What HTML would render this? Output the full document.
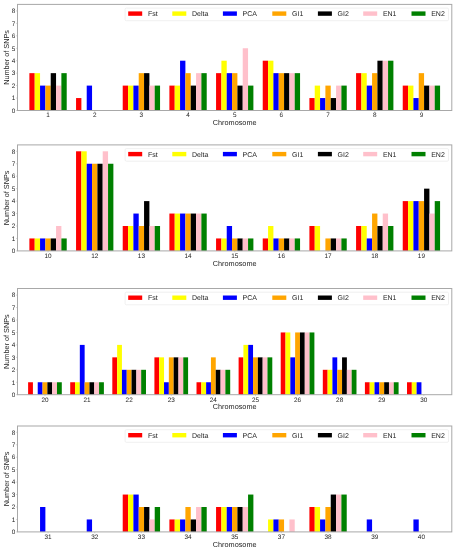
<!DOCTYPE html>
<html lang="en">
<head>
<meta charset="utf-8">
<title>Number of SNPs per chromosome</title>
<style>
html,body{margin:0;padding:0;background:#fff;}
body{width:455px;height:550px;overflow:hidden;}
svg{display:block;}
text{font-family:"Liberation Sans",Arial,sans-serif;fill:#262626;text-rendering:geometricPrecision;}
.tick{font-size:6.4px;}
.lab{font-size:7.3px;}
.leg{font-size:7px;}
</style>
</head>
<body>
<svg width="455" height="550" viewBox="0 0 455 550">
<rect x="0" y="0" width="455" height="550" fill="#ffffff"/>
<g>
<rect x="29.38" y="73.15" width="5.33" height="37.35" fill="#ff0000"/>
<rect x="34.72" y="73.15" width="5.33" height="37.35" fill="#ffff00"/>
<rect x="40.05" y="85.60" width="5.33" height="24.90" fill="#0000ff"/>
<rect x="45.38" y="85.60" width="5.33" height="24.90" fill="#ffa500"/>
<rect x="50.72" y="73.15" width="5.33" height="37.35" fill="#000000"/>
<rect x="56.05" y="85.60" width="5.33" height="24.90" fill="#ffc0cb"/>
<rect x="61.38" y="73.15" width="5.33" height="37.35" fill="#008000"/>
<rect x="76.05" y="98.05" width="5.33" height="12.45" fill="#ff0000"/>
<rect x="86.72" y="85.60" width="5.33" height="24.90" fill="#0000ff"/>
<rect x="122.72" y="85.60" width="5.33" height="24.90" fill="#ff0000"/>
<rect x="128.06" y="85.60" width="5.33" height="24.90" fill="#ffff00"/>
<rect x="133.39" y="85.60" width="5.33" height="24.90" fill="#0000ff"/>
<rect x="138.72" y="73.15" width="5.33" height="37.35" fill="#ffa500"/>
<rect x="144.06" y="73.15" width="5.33" height="37.35" fill="#000000"/>
<rect x="149.39" y="85.60" width="5.33" height="24.90" fill="#ffc0cb"/>
<rect x="154.72" y="85.60" width="5.33" height="24.90" fill="#008000"/>
<rect x="169.39" y="85.60" width="5.33" height="24.90" fill="#ff0000"/>
<rect x="174.73" y="85.60" width="5.33" height="24.90" fill="#ffff00"/>
<rect x="180.06" y="60.70" width="5.33" height="49.80" fill="#0000ff"/>
<rect x="185.39" y="73.15" width="5.33" height="37.35" fill="#ffa500"/>
<rect x="190.73" y="85.60" width="5.33" height="24.90" fill="#000000"/>
<rect x="196.06" y="73.15" width="5.33" height="37.35" fill="#ffc0cb"/>
<rect x="201.39" y="73.15" width="5.33" height="37.35" fill="#008000"/>
<rect x="216.06" y="73.15" width="5.33" height="37.35" fill="#ff0000"/>
<rect x="221.40" y="60.70" width="5.33" height="49.80" fill="#ffff00"/>
<rect x="226.73" y="73.15" width="5.33" height="37.35" fill="#0000ff"/>
<rect x="232.06" y="73.15" width="5.33" height="37.35" fill="#ffa500"/>
<rect x="237.40" y="85.60" width="5.33" height="24.90" fill="#000000"/>
<rect x="242.73" y="48.25" width="5.33" height="62.25" fill="#ffc0cb"/>
<rect x="248.06" y="85.60" width="5.33" height="24.90" fill="#008000"/>
<rect x="262.73" y="60.70" width="5.33" height="49.80" fill="#ff0000"/>
<rect x="268.07" y="60.70" width="5.33" height="49.80" fill="#ffff00"/>
<rect x="273.40" y="73.15" width="5.33" height="37.35" fill="#0000ff"/>
<rect x="278.73" y="73.15" width="5.33" height="37.35" fill="#ffa500"/>
<rect x="284.07" y="73.15" width="5.33" height="37.35" fill="#000000"/>
<rect x="289.40" y="73.15" width="5.33" height="37.35" fill="#ffc0cb"/>
<rect x="294.73" y="73.15" width="5.33" height="37.35" fill="#008000"/>
<rect x="309.40" y="98.05" width="5.33" height="12.45" fill="#ff0000"/>
<rect x="314.74" y="85.60" width="5.33" height="24.90" fill="#ffff00"/>
<rect x="320.07" y="98.05" width="5.33" height="12.45" fill="#0000ff"/>
<rect x="325.40" y="85.60" width="5.33" height="24.90" fill="#ffa500"/>
<rect x="330.74" y="98.05" width="5.33" height="12.45" fill="#000000"/>
<rect x="336.07" y="85.60" width="5.33" height="24.90" fill="#ffc0cb"/>
<rect x="341.40" y="85.60" width="5.33" height="24.90" fill="#008000"/>
<rect x="356.07" y="73.15" width="5.33" height="37.35" fill="#ff0000"/>
<rect x="361.41" y="73.15" width="5.33" height="37.35" fill="#ffff00"/>
<rect x="366.74" y="85.60" width="5.33" height="24.90" fill="#0000ff"/>
<rect x="372.07" y="73.15" width="5.33" height="37.35" fill="#ffa500"/>
<rect x="377.41" y="60.70" width="5.33" height="49.80" fill="#000000"/>
<rect x="382.74" y="60.70" width="5.33" height="49.80" fill="#ffc0cb"/>
<rect x="388.07" y="60.70" width="5.33" height="49.80" fill="#008000"/>
<rect x="402.74" y="85.60" width="5.33" height="24.90" fill="#ff0000"/>
<rect x="408.08" y="85.60" width="5.33" height="24.90" fill="#ffff00"/>
<rect x="413.41" y="98.05" width="5.33" height="12.45" fill="#0000ff"/>
<rect x="418.74" y="73.15" width="5.33" height="37.35" fill="#ffa500"/>
<rect x="424.08" y="85.60" width="5.33" height="24.90" fill="#000000"/>
<rect x="429.41" y="85.60" width="5.33" height="24.90" fill="#ffc0cb"/>
<rect x="434.74" y="85.60" width="5.33" height="24.90" fill="#008000"/>
<rect x="17.50" y="4.40" width="434.30" height="106.10" fill="none" stroke="#a8a8a8" stroke-width="1"/>
<line x1="16.10" y1="110.50" x2="17.50" y2="110.50" stroke="#a8a8a8" stroke-width="0.5"/>
<text class="tick" x="15.3" y="112.75" text-anchor="end">0</text>
<line x1="16.10" y1="98.05" x2="17.50" y2="98.05" stroke="#a8a8a8" stroke-width="0.5"/>
<text class="tick" x="15.3" y="100.30" text-anchor="end">1</text>
<line x1="16.10" y1="85.60" x2="17.50" y2="85.60" stroke="#a8a8a8" stroke-width="0.5"/>
<text class="tick" x="15.3" y="87.85" text-anchor="end">2</text>
<line x1="16.10" y1="73.15" x2="17.50" y2="73.15" stroke="#a8a8a8" stroke-width="0.5"/>
<text class="tick" x="15.3" y="75.40" text-anchor="end">3</text>
<line x1="16.10" y1="60.70" x2="17.50" y2="60.70" stroke="#a8a8a8" stroke-width="0.5"/>
<text class="tick" x="15.3" y="62.95" text-anchor="end">4</text>
<line x1="16.10" y1="48.25" x2="17.50" y2="48.25" stroke="#a8a8a8" stroke-width="0.5"/>
<text class="tick" x="15.3" y="50.50" text-anchor="end">5</text>
<line x1="16.10" y1="35.80" x2="17.50" y2="35.80" stroke="#a8a8a8" stroke-width="0.5"/>
<text class="tick" x="15.3" y="38.05" text-anchor="end">6</text>
<line x1="16.10" y1="23.35" x2="17.50" y2="23.35" stroke="#a8a8a8" stroke-width="0.5"/>
<text class="tick" x="15.3" y="25.60" text-anchor="end">7</text>
<line x1="16.10" y1="10.90" x2="17.50" y2="10.90" stroke="#a8a8a8" stroke-width="0.5"/>
<text class="tick" x="15.3" y="13.15" text-anchor="end">8</text>
<line x1="48.05" y1="110.50" x2="48.05" y2="111.90" stroke="#a8a8a8" stroke-width="0.5"/>
<text class="tick" x="48.05" y="117.30" text-anchor="middle">1</text>
<line x1="94.72" y1="110.50" x2="94.72" y2="111.90" stroke="#a8a8a8" stroke-width="0.5"/>
<text class="tick" x="94.72" y="117.30" text-anchor="middle">2</text>
<line x1="141.39" y1="110.50" x2="141.39" y2="111.90" stroke="#a8a8a8" stroke-width="0.5"/>
<text class="tick" x="141.39" y="117.30" text-anchor="middle">3</text>
<line x1="188.06" y1="110.50" x2="188.06" y2="111.90" stroke="#a8a8a8" stroke-width="0.5"/>
<text class="tick" x="188.06" y="117.30" text-anchor="middle">4</text>
<line x1="234.73" y1="110.50" x2="234.73" y2="111.90" stroke="#a8a8a8" stroke-width="0.5"/>
<text class="tick" x="234.73" y="117.30" text-anchor="middle">5</text>
<line x1="281.40" y1="110.50" x2="281.40" y2="111.90" stroke="#a8a8a8" stroke-width="0.5"/>
<text class="tick" x="281.40" y="117.30" text-anchor="middle">6</text>
<line x1="328.07" y1="110.50" x2="328.07" y2="111.90" stroke="#a8a8a8" stroke-width="0.5"/>
<text class="tick" x="328.07" y="117.30" text-anchor="middle">7</text>
<line x1="374.74" y1="110.50" x2="374.74" y2="111.90" stroke="#a8a8a8" stroke-width="0.5"/>
<text class="tick" x="374.74" y="117.30" text-anchor="middle">8</text>
<line x1="421.41" y1="110.50" x2="421.41" y2="111.90" stroke="#a8a8a8" stroke-width="0.5"/>
<text class="tick" x="421.41" y="117.30" text-anchor="middle">9</text>
<text class="lab" x="234.65" y="125.20" text-anchor="middle">Chromosome</text>
<text class="lab" transform="translate(9.4 57.45) rotate(-90)" text-anchor="middle">Number of SNPs</text>
<rect x="125.1" y="8.10" width="323.4" height="12.6" rx="1.2" ry="1.2" fill="#ffffff" fill-opacity="0.8" stroke="#e6e6e6" stroke-width="0.6"/>
<rect x="128.20" y="11.40" width="14.00" height="4.4" fill="#ff0000"/>
<text class="leg" x="147.90" y="16.20">Fst</text>
<rect x="172.30" y="11.40" width="14.00" height="4.4" fill="#ffff00"/>
<text class="leg" x="192.00" y="16.20">Delta</text>
<rect x="222.90" y="11.40" width="14.00" height="4.4" fill="#0000ff"/>
<text class="leg" x="242.60" y="16.20">PCA</text>
<rect x="272.30" y="11.40" width="14.00" height="4.4" fill="#ffa500"/>
<text class="leg" x="292.00" y="16.20">GI1</text>
<rect x="317.90" y="11.40" width="14.00" height="4.4" fill="#000000"/>
<text class="leg" x="337.60" y="16.20">GI2</text>
<rect x="363.20" y="11.40" width="14.00" height="4.4" fill="#ffc0cb"/>
<text class="leg" x="382.90" y="16.20">EN1</text>
<rect x="411.50" y="11.40" width="14.00" height="4.4" fill="#008000"/>
<text class="leg" x="431.20" y="16.20">EN2</text>
</g>
<g>
<rect x="29.38" y="238.45" width="5.33" height="12.45" fill="#ff0000"/>
<rect x="34.72" y="238.45" width="5.33" height="12.45" fill="#ffff00"/>
<rect x="40.05" y="238.45" width="5.33" height="12.45" fill="#0000ff"/>
<rect x="45.38" y="238.45" width="5.33" height="12.45" fill="#ffa500"/>
<rect x="50.72" y="238.45" width="5.33" height="12.45" fill="#000000"/>
<rect x="56.05" y="226.00" width="5.33" height="24.90" fill="#ffc0cb"/>
<rect x="61.38" y="238.45" width="5.33" height="12.45" fill="#008000"/>
<rect x="76.05" y="151.30" width="5.33" height="99.60" fill="#ff0000"/>
<rect x="81.39" y="151.30" width="5.33" height="99.60" fill="#ffff00"/>
<rect x="86.72" y="163.75" width="5.33" height="87.15" fill="#0000ff"/>
<rect x="92.05" y="163.75" width="5.33" height="87.15" fill="#ffa500"/>
<rect x="97.39" y="163.75" width="5.33" height="87.15" fill="#000000"/>
<rect x="102.72" y="151.30" width="5.33" height="99.60" fill="#ffc0cb"/>
<rect x="108.05" y="163.75" width="5.33" height="87.15" fill="#008000"/>
<rect x="122.72" y="226.00" width="5.33" height="24.90" fill="#ff0000"/>
<rect x="128.06" y="226.00" width="5.33" height="24.90" fill="#ffff00"/>
<rect x="133.39" y="213.55" width="5.33" height="37.35" fill="#0000ff"/>
<rect x="138.72" y="226.00" width="5.33" height="24.90" fill="#ffa500"/>
<rect x="144.06" y="201.10" width="5.33" height="49.80" fill="#000000"/>
<rect x="149.39" y="226.00" width="5.33" height="24.90" fill="#ffc0cb"/>
<rect x="154.72" y="226.00" width="5.33" height="24.90" fill="#008000"/>
<rect x="169.39" y="213.55" width="5.33" height="37.35" fill="#ff0000"/>
<rect x="174.73" y="213.55" width="5.33" height="37.35" fill="#ffff00"/>
<rect x="180.06" y="213.55" width="5.33" height="37.35" fill="#0000ff"/>
<rect x="185.39" y="213.55" width="5.33" height="37.35" fill="#ffa500"/>
<rect x="190.73" y="213.55" width="5.33" height="37.35" fill="#000000"/>
<rect x="196.06" y="213.55" width="5.33" height="37.35" fill="#ffc0cb"/>
<rect x="201.39" y="213.55" width="5.33" height="37.35" fill="#008000"/>
<rect x="216.06" y="238.45" width="5.33" height="12.45" fill="#ff0000"/>
<rect x="221.40" y="238.45" width="5.33" height="12.45" fill="#ffff00"/>
<rect x="226.73" y="226.00" width="5.33" height="24.90" fill="#0000ff"/>
<rect x="232.06" y="238.45" width="5.33" height="12.45" fill="#ffa500"/>
<rect x="237.40" y="238.45" width="5.33" height="12.45" fill="#000000"/>
<rect x="242.73" y="238.45" width="5.33" height="12.45" fill="#ffc0cb"/>
<rect x="248.06" y="238.45" width="5.33" height="12.45" fill="#008000"/>
<rect x="262.73" y="238.45" width="5.33" height="12.45" fill="#ff0000"/>
<rect x="268.07" y="226.00" width="5.33" height="24.90" fill="#ffff00"/>
<rect x="273.40" y="238.45" width="5.33" height="12.45" fill="#0000ff"/>
<rect x="278.73" y="238.45" width="5.33" height="12.45" fill="#ffa500"/>
<rect x="284.07" y="238.45" width="5.33" height="12.45" fill="#000000"/>
<rect x="289.40" y="238.45" width="5.33" height="12.45" fill="#ffc0cb"/>
<rect x="294.73" y="238.45" width="5.33" height="12.45" fill="#008000"/>
<rect x="309.40" y="226.00" width="5.33" height="24.90" fill="#ff0000"/>
<rect x="314.74" y="226.00" width="5.33" height="24.90" fill="#ffff00"/>
<rect x="325.40" y="238.45" width="5.33" height="12.45" fill="#ffa500"/>
<rect x="330.74" y="238.45" width="5.33" height="12.45" fill="#000000"/>
<rect x="336.07" y="238.45" width="5.33" height="12.45" fill="#ffc0cb"/>
<rect x="341.40" y="238.45" width="5.33" height="12.45" fill="#008000"/>
<rect x="356.07" y="226.00" width="5.33" height="24.90" fill="#ff0000"/>
<rect x="361.41" y="226.00" width="5.33" height="24.90" fill="#ffff00"/>
<rect x="366.74" y="238.45" width="5.33" height="12.45" fill="#0000ff"/>
<rect x="372.07" y="213.55" width="5.33" height="37.35" fill="#ffa500"/>
<rect x="377.41" y="226.00" width="5.33" height="24.90" fill="#000000"/>
<rect x="382.74" y="213.55" width="5.33" height="37.35" fill="#ffc0cb"/>
<rect x="388.07" y="226.00" width="5.33" height="24.90" fill="#008000"/>
<rect x="402.74" y="201.10" width="5.33" height="49.80" fill="#ff0000"/>
<rect x="408.08" y="201.10" width="5.33" height="49.80" fill="#ffff00"/>
<rect x="413.41" y="201.10" width="5.33" height="49.80" fill="#0000ff"/>
<rect x="418.74" y="201.10" width="5.33" height="49.80" fill="#ffa500"/>
<rect x="424.08" y="188.65" width="5.33" height="62.25" fill="#000000"/>
<rect x="429.41" y="213.55" width="5.33" height="37.35" fill="#ffc0cb"/>
<rect x="434.74" y="201.10" width="5.33" height="49.80" fill="#008000"/>
<rect x="17.50" y="144.90" width="434.30" height="106.00" fill="none" stroke="#a8a8a8" stroke-width="1"/>
<line x1="16.10" y1="250.90" x2="17.50" y2="250.90" stroke="#a8a8a8" stroke-width="0.5"/>
<text class="tick" x="15.3" y="253.15" text-anchor="end">0</text>
<line x1="16.10" y1="238.45" x2="17.50" y2="238.45" stroke="#a8a8a8" stroke-width="0.5"/>
<text class="tick" x="15.3" y="240.70" text-anchor="end">1</text>
<line x1="16.10" y1="226.00" x2="17.50" y2="226.00" stroke="#a8a8a8" stroke-width="0.5"/>
<text class="tick" x="15.3" y="228.25" text-anchor="end">2</text>
<line x1="16.10" y1="213.55" x2="17.50" y2="213.55" stroke="#a8a8a8" stroke-width="0.5"/>
<text class="tick" x="15.3" y="215.80" text-anchor="end">3</text>
<line x1="16.10" y1="201.10" x2="17.50" y2="201.10" stroke="#a8a8a8" stroke-width="0.5"/>
<text class="tick" x="15.3" y="203.35" text-anchor="end">4</text>
<line x1="16.10" y1="188.65" x2="17.50" y2="188.65" stroke="#a8a8a8" stroke-width="0.5"/>
<text class="tick" x="15.3" y="190.90" text-anchor="end">5</text>
<line x1="16.10" y1="176.20" x2="17.50" y2="176.20" stroke="#a8a8a8" stroke-width="0.5"/>
<text class="tick" x="15.3" y="178.45" text-anchor="end">6</text>
<line x1="16.10" y1="163.75" x2="17.50" y2="163.75" stroke="#a8a8a8" stroke-width="0.5"/>
<text class="tick" x="15.3" y="166.00" text-anchor="end">7</text>
<line x1="16.10" y1="151.30" x2="17.50" y2="151.30" stroke="#a8a8a8" stroke-width="0.5"/>
<text class="tick" x="15.3" y="153.55" text-anchor="end">8</text>
<line x1="48.05" y1="250.90" x2="48.05" y2="252.30" stroke="#a8a8a8" stroke-width="0.5"/>
<text class="tick" x="48.05" y="257.70" text-anchor="middle">10</text>
<line x1="94.72" y1="250.90" x2="94.72" y2="252.30" stroke="#a8a8a8" stroke-width="0.5"/>
<text class="tick" x="94.72" y="257.70" text-anchor="middle">12</text>
<line x1="141.39" y1="250.90" x2="141.39" y2="252.30" stroke="#a8a8a8" stroke-width="0.5"/>
<text class="tick" x="141.39" y="257.70" text-anchor="middle">13</text>
<line x1="188.06" y1="250.90" x2="188.06" y2="252.30" stroke="#a8a8a8" stroke-width="0.5"/>
<text class="tick" x="188.06" y="257.70" text-anchor="middle">14</text>
<line x1="234.73" y1="250.90" x2="234.73" y2="252.30" stroke="#a8a8a8" stroke-width="0.5"/>
<text class="tick" x="234.73" y="257.70" text-anchor="middle">15</text>
<line x1="281.40" y1="250.90" x2="281.40" y2="252.30" stroke="#a8a8a8" stroke-width="0.5"/>
<text class="tick" x="281.40" y="257.70" text-anchor="middle">16</text>
<line x1="328.07" y1="250.90" x2="328.07" y2="252.30" stroke="#a8a8a8" stroke-width="0.5"/>
<text class="tick" x="328.07" y="257.70" text-anchor="middle">17</text>
<line x1="374.74" y1="250.90" x2="374.74" y2="252.30" stroke="#a8a8a8" stroke-width="0.5"/>
<text class="tick" x="374.74" y="257.70" text-anchor="middle">18</text>
<line x1="421.41" y1="250.90" x2="421.41" y2="252.30" stroke="#a8a8a8" stroke-width="0.5"/>
<text class="tick" x="421.41" y="257.70" text-anchor="middle">19</text>
<text class="lab" x="234.65" y="265.60" text-anchor="middle">Chromosome</text>
<text class="lab" transform="translate(9.4 197.90) rotate(-90)" text-anchor="middle">Number of SNPs</text>
<rect x="125.1" y="148.60" width="323.4" height="12.6" rx="1.2" ry="1.2" fill="#ffffff" fill-opacity="0.8" stroke="#e6e6e6" stroke-width="0.6"/>
<rect x="128.20" y="151.90" width="14.00" height="4.4" fill="#ff0000"/>
<text class="leg" x="147.90" y="156.70">Fst</text>
<rect x="172.30" y="151.90" width="14.00" height="4.4" fill="#ffff00"/>
<text class="leg" x="192.00" y="156.70">Delta</text>
<rect x="222.90" y="151.90" width="14.00" height="4.4" fill="#0000ff"/>
<text class="leg" x="242.60" y="156.70">PCA</text>
<rect x="272.30" y="151.90" width="14.00" height="4.4" fill="#ffa500"/>
<text class="leg" x="292.00" y="156.70">GI1</text>
<rect x="317.90" y="151.90" width="14.00" height="4.4" fill="#000000"/>
<text class="leg" x="337.60" y="156.70">GI2</text>
<rect x="363.20" y="151.90" width="14.00" height="4.4" fill="#ffc0cb"/>
<text class="leg" x="382.90" y="156.70">EN1</text>
<rect x="411.50" y="151.90" width="14.00" height="4.4" fill="#008000"/>
<text class="leg" x="431.20" y="156.70">EN2</text>
</g>
<g>
<rect x="28.11" y="382.25" width="4.81" height="12.45" fill="#ff0000"/>
<rect x="37.73" y="382.25" width="4.81" height="12.45" fill="#0000ff"/>
<rect x="42.54" y="382.25" width="4.81" height="12.45" fill="#ffa500"/>
<rect x="47.36" y="382.25" width="4.81" height="12.45" fill="#000000"/>
<rect x="52.17" y="382.25" width="4.81" height="12.45" fill="#ffc0cb"/>
<rect x="56.98" y="382.25" width="4.81" height="12.45" fill="#008000"/>
<rect x="70.21" y="382.25" width="4.81" height="12.45" fill="#ff0000"/>
<rect x="75.02" y="382.25" width="4.81" height="12.45" fill="#ffff00"/>
<rect x="79.83" y="344.90" width="4.81" height="49.80" fill="#0000ff"/>
<rect x="84.64" y="382.25" width="4.81" height="12.45" fill="#ffa500"/>
<rect x="89.46" y="382.25" width="4.81" height="12.45" fill="#000000"/>
<rect x="94.27" y="382.25" width="4.81" height="12.45" fill="#ffc0cb"/>
<rect x="99.08" y="382.25" width="4.81" height="12.45" fill="#008000"/>
<rect x="112.31" y="357.35" width="4.81" height="37.35" fill="#ff0000"/>
<rect x="117.12" y="344.90" width="4.81" height="49.80" fill="#ffff00"/>
<rect x="121.93" y="369.80" width="4.81" height="24.90" fill="#0000ff"/>
<rect x="126.74" y="369.80" width="4.81" height="24.90" fill="#ffa500"/>
<rect x="131.56" y="369.80" width="4.81" height="24.90" fill="#000000"/>
<rect x="136.37" y="369.80" width="4.81" height="24.90" fill="#ffc0cb"/>
<rect x="141.18" y="369.80" width="4.81" height="24.90" fill="#008000"/>
<rect x="154.41" y="357.35" width="4.81" height="37.35" fill="#ff0000"/>
<rect x="159.22" y="357.35" width="4.81" height="37.35" fill="#ffff00"/>
<rect x="164.03" y="382.25" width="4.81" height="12.45" fill="#0000ff"/>
<rect x="168.84" y="357.35" width="4.81" height="37.35" fill="#ffa500"/>
<rect x="173.66" y="357.35" width="4.81" height="37.35" fill="#000000"/>
<rect x="178.47" y="357.35" width="4.81" height="37.35" fill="#ffc0cb"/>
<rect x="183.28" y="357.35" width="4.81" height="37.35" fill="#008000"/>
<rect x="196.51" y="382.25" width="4.81" height="12.45" fill="#ff0000"/>
<rect x="201.32" y="382.25" width="4.81" height="12.45" fill="#ffff00"/>
<rect x="206.13" y="382.25" width="4.81" height="12.45" fill="#0000ff"/>
<rect x="210.94" y="357.35" width="4.81" height="37.35" fill="#ffa500"/>
<rect x="215.76" y="369.80" width="4.81" height="24.90" fill="#000000"/>
<rect x="220.57" y="369.80" width="4.81" height="24.90" fill="#ffc0cb"/>
<rect x="225.38" y="369.80" width="4.81" height="24.90" fill="#008000"/>
<rect x="238.61" y="357.35" width="4.81" height="37.35" fill="#ff0000"/>
<rect x="243.42" y="344.90" width="4.81" height="49.80" fill="#ffff00"/>
<rect x="248.23" y="344.90" width="4.81" height="49.80" fill="#0000ff"/>
<rect x="253.04" y="357.35" width="4.81" height="37.35" fill="#ffa500"/>
<rect x="257.86" y="357.35" width="4.81" height="37.35" fill="#000000"/>
<rect x="262.67" y="357.35" width="4.81" height="37.35" fill="#ffc0cb"/>
<rect x="267.48" y="357.35" width="4.81" height="37.35" fill="#008000"/>
<rect x="280.71" y="332.45" width="4.81" height="62.25" fill="#ff0000"/>
<rect x="285.52" y="332.45" width="4.81" height="62.25" fill="#ffff00"/>
<rect x="290.33" y="357.35" width="4.81" height="37.35" fill="#0000ff"/>
<rect x="295.14" y="332.45" width="4.81" height="62.25" fill="#ffa500"/>
<rect x="299.96" y="332.45" width="4.81" height="62.25" fill="#000000"/>
<rect x="304.77" y="332.45" width="4.81" height="62.25" fill="#ffc0cb"/>
<rect x="309.58" y="332.45" width="4.81" height="62.25" fill="#008000"/>
<rect x="322.81" y="369.80" width="4.81" height="24.90" fill="#ff0000"/>
<rect x="327.62" y="369.80" width="4.81" height="24.90" fill="#ffff00"/>
<rect x="332.43" y="357.35" width="4.81" height="37.35" fill="#0000ff"/>
<rect x="337.24" y="369.80" width="4.81" height="24.90" fill="#ffa500"/>
<rect x="342.06" y="357.35" width="4.81" height="37.35" fill="#000000"/>
<rect x="346.87" y="369.80" width="4.81" height="24.90" fill="#ffc0cb"/>
<rect x="351.68" y="369.80" width="4.81" height="24.90" fill="#008000"/>
<rect x="364.91" y="382.25" width="4.81" height="12.45" fill="#ff0000"/>
<rect x="369.72" y="382.25" width="4.81" height="12.45" fill="#ffff00"/>
<rect x="374.53" y="382.25" width="4.81" height="12.45" fill="#0000ff"/>
<rect x="379.34" y="382.25" width="4.81" height="12.45" fill="#ffa500"/>
<rect x="384.16" y="382.25" width="4.81" height="12.45" fill="#000000"/>
<rect x="388.97" y="382.25" width="4.81" height="12.45" fill="#ffc0cb"/>
<rect x="393.78" y="382.25" width="4.81" height="12.45" fill="#008000"/>
<rect x="407.01" y="382.25" width="4.81" height="12.45" fill="#ff0000"/>
<rect x="411.82" y="382.25" width="4.81" height="12.45" fill="#ffff00"/>
<rect x="416.63" y="382.25" width="4.81" height="12.45" fill="#0000ff"/>
<rect x="17.50" y="288.50" width="434.30" height="106.20" fill="none" stroke="#a8a8a8" stroke-width="1"/>
<line x1="16.10" y1="394.70" x2="17.50" y2="394.70" stroke="#a8a8a8" stroke-width="0.5"/>
<text class="tick" x="15.3" y="396.95" text-anchor="end">0</text>
<line x1="16.10" y1="382.25" x2="17.50" y2="382.25" stroke="#a8a8a8" stroke-width="0.5"/>
<text class="tick" x="15.3" y="384.50" text-anchor="end">1</text>
<line x1="16.10" y1="369.80" x2="17.50" y2="369.80" stroke="#a8a8a8" stroke-width="0.5"/>
<text class="tick" x="15.3" y="372.05" text-anchor="end">2</text>
<line x1="16.10" y1="357.35" x2="17.50" y2="357.35" stroke="#a8a8a8" stroke-width="0.5"/>
<text class="tick" x="15.3" y="359.60" text-anchor="end">3</text>
<line x1="16.10" y1="344.90" x2="17.50" y2="344.90" stroke="#a8a8a8" stroke-width="0.5"/>
<text class="tick" x="15.3" y="347.15" text-anchor="end">4</text>
<line x1="16.10" y1="332.45" x2="17.50" y2="332.45" stroke="#a8a8a8" stroke-width="0.5"/>
<text class="tick" x="15.3" y="334.70" text-anchor="end">5</text>
<line x1="16.10" y1="320.00" x2="17.50" y2="320.00" stroke="#a8a8a8" stroke-width="0.5"/>
<text class="tick" x="15.3" y="322.25" text-anchor="end">6</text>
<line x1="16.10" y1="307.55" x2="17.50" y2="307.55" stroke="#a8a8a8" stroke-width="0.5"/>
<text class="tick" x="15.3" y="309.80" text-anchor="end">7</text>
<line x1="16.10" y1="295.10" x2="17.50" y2="295.10" stroke="#a8a8a8" stroke-width="0.5"/>
<text class="tick" x="15.3" y="297.35" text-anchor="end">8</text>
<line x1="44.95" y1="394.70" x2="44.95" y2="396.10" stroke="#a8a8a8" stroke-width="0.5"/>
<text class="tick" x="44.95" y="401.50" text-anchor="middle">20</text>
<line x1="87.05" y1="394.70" x2="87.05" y2="396.10" stroke="#a8a8a8" stroke-width="0.5"/>
<text class="tick" x="87.05" y="401.50" text-anchor="middle">21</text>
<line x1="129.15" y1="394.70" x2="129.15" y2="396.10" stroke="#a8a8a8" stroke-width="0.5"/>
<text class="tick" x="129.15" y="401.50" text-anchor="middle">22</text>
<line x1="171.25" y1="394.70" x2="171.25" y2="396.10" stroke="#a8a8a8" stroke-width="0.5"/>
<text class="tick" x="171.25" y="401.50" text-anchor="middle">23</text>
<line x1="213.35" y1="394.70" x2="213.35" y2="396.10" stroke="#a8a8a8" stroke-width="0.5"/>
<text class="tick" x="213.35" y="401.50" text-anchor="middle">24</text>
<line x1="255.45" y1="394.70" x2="255.45" y2="396.10" stroke="#a8a8a8" stroke-width="0.5"/>
<text class="tick" x="255.45" y="401.50" text-anchor="middle">25</text>
<line x1="297.55" y1="394.70" x2="297.55" y2="396.10" stroke="#a8a8a8" stroke-width="0.5"/>
<text class="tick" x="297.55" y="401.50" text-anchor="middle">26</text>
<line x1="339.65" y1="394.70" x2="339.65" y2="396.10" stroke="#a8a8a8" stroke-width="0.5"/>
<text class="tick" x="339.65" y="401.50" text-anchor="middle">28</text>
<line x1="381.75" y1="394.70" x2="381.75" y2="396.10" stroke="#a8a8a8" stroke-width="0.5"/>
<text class="tick" x="381.75" y="401.50" text-anchor="middle">29</text>
<line x1="423.85" y1="394.70" x2="423.85" y2="396.10" stroke="#a8a8a8" stroke-width="0.5"/>
<text class="tick" x="423.85" y="401.50" text-anchor="middle">30</text>
<text class="lab" x="234.65" y="409.40" text-anchor="middle">Chromosome</text>
<text class="lab" transform="translate(9.4 341.60) rotate(-90)" text-anchor="middle">Number of SNPs</text>
<rect x="125.1" y="292.20" width="323.4" height="12.6" rx="1.2" ry="1.2" fill="#ffffff" fill-opacity="0.8" stroke="#e6e6e6" stroke-width="0.6"/>
<rect x="128.20" y="295.50" width="14.00" height="4.4" fill="#ff0000"/>
<text class="leg" x="147.90" y="300.30">Fst</text>
<rect x="172.30" y="295.50" width="14.00" height="4.4" fill="#ffff00"/>
<text class="leg" x="192.00" y="300.30">Delta</text>
<rect x="222.90" y="295.50" width="14.00" height="4.4" fill="#0000ff"/>
<text class="leg" x="242.60" y="300.30">PCA</text>
<rect x="272.30" y="295.50" width="14.00" height="4.4" fill="#ffa500"/>
<text class="leg" x="292.00" y="300.30">GI1</text>
<rect x="317.90" y="295.50" width="14.00" height="4.4" fill="#000000"/>
<text class="leg" x="337.60" y="300.30">GI2</text>
<rect x="363.20" y="295.50" width="14.00" height="4.4" fill="#ffc0cb"/>
<text class="leg" x="382.90" y="300.30">EN1</text>
<rect x="411.50" y="295.50" width="14.00" height="4.4" fill="#008000"/>
<text class="leg" x="431.20" y="300.30">EN2</text>
</g>
<g>
<rect x="40.05" y="507.00" width="5.33" height="24.90" fill="#0000ff"/>
<rect x="86.72" y="519.45" width="5.33" height="12.45" fill="#0000ff"/>
<rect x="122.72" y="494.55" width="5.33" height="37.35" fill="#ff0000"/>
<rect x="128.06" y="494.55" width="5.33" height="37.35" fill="#ffff00"/>
<rect x="133.39" y="494.55" width="5.33" height="37.35" fill="#0000ff"/>
<rect x="138.72" y="507.00" width="5.33" height="24.90" fill="#ffa500"/>
<rect x="144.06" y="507.00" width="5.33" height="24.90" fill="#000000"/>
<rect x="149.39" y="519.45" width="5.33" height="12.45" fill="#ffc0cb"/>
<rect x="154.72" y="507.00" width="5.33" height="24.90" fill="#008000"/>
<rect x="169.39" y="519.45" width="5.33" height="12.45" fill="#ff0000"/>
<rect x="174.73" y="519.45" width="5.33" height="12.45" fill="#ffff00"/>
<rect x="180.06" y="519.45" width="5.33" height="12.45" fill="#0000ff"/>
<rect x="185.39" y="507.00" width="5.33" height="24.90" fill="#ffa500"/>
<rect x="190.73" y="519.45" width="5.33" height="12.45" fill="#000000"/>
<rect x="196.06" y="507.00" width="5.33" height="24.90" fill="#ffc0cb"/>
<rect x="201.39" y="507.00" width="5.33" height="24.90" fill="#008000"/>
<rect x="216.06" y="507.00" width="5.33" height="24.90" fill="#ff0000"/>
<rect x="221.40" y="507.00" width="5.33" height="24.90" fill="#ffff00"/>
<rect x="226.73" y="507.00" width="5.33" height="24.90" fill="#0000ff"/>
<rect x="232.06" y="507.00" width="5.33" height="24.90" fill="#ffa500"/>
<rect x="237.40" y="507.00" width="5.33" height="24.90" fill="#000000"/>
<rect x="242.73" y="507.00" width="5.33" height="24.90" fill="#ffc0cb"/>
<rect x="248.06" y="494.55" width="5.33" height="37.35" fill="#008000"/>
<rect x="268.07" y="519.45" width="5.33" height="12.45" fill="#ffff00"/>
<rect x="273.40" y="519.45" width="5.33" height="12.45" fill="#0000ff"/>
<rect x="278.73" y="519.45" width="5.33" height="12.45" fill="#ffa500"/>
<rect x="289.40" y="519.45" width="5.33" height="12.45" fill="#ffc0cb"/>
<rect x="309.40" y="507.00" width="5.33" height="24.90" fill="#ff0000"/>
<rect x="314.74" y="507.00" width="5.33" height="24.90" fill="#ffff00"/>
<rect x="320.07" y="519.45" width="5.33" height="12.45" fill="#0000ff"/>
<rect x="325.40" y="507.00" width="5.33" height="24.90" fill="#ffa500"/>
<rect x="330.74" y="494.55" width="5.33" height="37.35" fill="#000000"/>
<rect x="336.07" y="494.55" width="5.33" height="37.35" fill="#ffc0cb"/>
<rect x="341.40" y="494.55" width="5.33" height="37.35" fill="#008000"/>
<rect x="366.74" y="519.45" width="5.33" height="12.45" fill="#0000ff"/>
<rect x="413.41" y="519.45" width="5.33" height="12.45" fill="#0000ff"/>
<rect x="17.50" y="426.00" width="434.30" height="105.90" fill="none" stroke="#a8a8a8" stroke-width="1"/>
<line x1="16.10" y1="531.90" x2="17.50" y2="531.90" stroke="#a8a8a8" stroke-width="0.5"/>
<text class="tick" x="15.3" y="534.15" text-anchor="end">0</text>
<line x1="16.10" y1="519.45" x2="17.50" y2="519.45" stroke="#a8a8a8" stroke-width="0.5"/>
<text class="tick" x="15.3" y="521.70" text-anchor="end">1</text>
<line x1="16.10" y1="507.00" x2="17.50" y2="507.00" stroke="#a8a8a8" stroke-width="0.5"/>
<text class="tick" x="15.3" y="509.25" text-anchor="end">2</text>
<line x1="16.10" y1="494.55" x2="17.50" y2="494.55" stroke="#a8a8a8" stroke-width="0.5"/>
<text class="tick" x="15.3" y="496.80" text-anchor="end">3</text>
<line x1="16.10" y1="482.10" x2="17.50" y2="482.10" stroke="#a8a8a8" stroke-width="0.5"/>
<text class="tick" x="15.3" y="484.35" text-anchor="end">4</text>
<line x1="16.10" y1="469.65" x2="17.50" y2="469.65" stroke="#a8a8a8" stroke-width="0.5"/>
<text class="tick" x="15.3" y="471.90" text-anchor="end">5</text>
<line x1="16.10" y1="457.20" x2="17.50" y2="457.20" stroke="#a8a8a8" stroke-width="0.5"/>
<text class="tick" x="15.3" y="459.45" text-anchor="end">6</text>
<line x1="16.10" y1="444.75" x2="17.50" y2="444.75" stroke="#a8a8a8" stroke-width="0.5"/>
<text class="tick" x="15.3" y="447.00" text-anchor="end">7</text>
<line x1="16.10" y1="432.30" x2="17.50" y2="432.30" stroke="#a8a8a8" stroke-width="0.5"/>
<text class="tick" x="15.3" y="434.55" text-anchor="end">8</text>
<line x1="48.05" y1="531.90" x2="48.05" y2="533.30" stroke="#a8a8a8" stroke-width="0.5"/>
<text class="tick" x="48.05" y="538.70" text-anchor="middle">31</text>
<line x1="94.72" y1="531.90" x2="94.72" y2="533.30" stroke="#a8a8a8" stroke-width="0.5"/>
<text class="tick" x="94.72" y="538.70" text-anchor="middle">32</text>
<line x1="141.39" y1="531.90" x2="141.39" y2="533.30" stroke="#a8a8a8" stroke-width="0.5"/>
<text class="tick" x="141.39" y="538.70" text-anchor="middle">33</text>
<line x1="188.06" y1="531.90" x2="188.06" y2="533.30" stroke="#a8a8a8" stroke-width="0.5"/>
<text class="tick" x="188.06" y="538.70" text-anchor="middle">34</text>
<line x1="234.73" y1="531.90" x2="234.73" y2="533.30" stroke="#a8a8a8" stroke-width="0.5"/>
<text class="tick" x="234.73" y="538.70" text-anchor="middle">35</text>
<line x1="281.40" y1="531.90" x2="281.40" y2="533.30" stroke="#a8a8a8" stroke-width="0.5"/>
<text class="tick" x="281.40" y="538.70" text-anchor="middle">37</text>
<line x1="328.07" y1="531.90" x2="328.07" y2="533.30" stroke="#a8a8a8" stroke-width="0.5"/>
<text class="tick" x="328.07" y="538.70" text-anchor="middle">38</text>
<line x1="374.74" y1="531.90" x2="374.74" y2="533.30" stroke="#a8a8a8" stroke-width="0.5"/>
<text class="tick" x="374.74" y="538.70" text-anchor="middle">39</text>
<line x1="421.41" y1="531.90" x2="421.41" y2="533.30" stroke="#a8a8a8" stroke-width="0.5"/>
<text class="tick" x="421.41" y="538.70" text-anchor="middle">40</text>
<text class="lab" x="234.65" y="546.60" text-anchor="middle">Chromosome</text>
<text class="lab" transform="translate(9.4 478.95) rotate(-90)" text-anchor="middle">Number of SNPs</text>
<rect x="125.1" y="429.70" width="323.4" height="12.6" rx="1.2" ry="1.2" fill="#ffffff" fill-opacity="0.8" stroke="#e6e6e6" stroke-width="0.6"/>
<rect x="128.20" y="433.00" width="14.00" height="4.4" fill="#ff0000"/>
<text class="leg" x="147.90" y="437.80">Fst</text>
<rect x="172.30" y="433.00" width="14.00" height="4.4" fill="#ffff00"/>
<text class="leg" x="192.00" y="437.80">Delta</text>
<rect x="222.90" y="433.00" width="14.00" height="4.4" fill="#0000ff"/>
<text class="leg" x="242.60" y="437.80">PCA</text>
<rect x="272.30" y="433.00" width="14.00" height="4.4" fill="#ffa500"/>
<text class="leg" x="292.00" y="437.80">GI1</text>
<rect x="317.90" y="433.00" width="14.00" height="4.4" fill="#000000"/>
<text class="leg" x="337.60" y="437.80">GI2</text>
<rect x="363.20" y="433.00" width="14.00" height="4.4" fill="#ffc0cb"/>
<text class="leg" x="382.90" y="437.80">EN1</text>
<rect x="411.50" y="433.00" width="14.00" height="4.4" fill="#008000"/>
<text class="leg" x="431.20" y="437.80">EN2</text>
</g>
</svg>
</body>
</html>
